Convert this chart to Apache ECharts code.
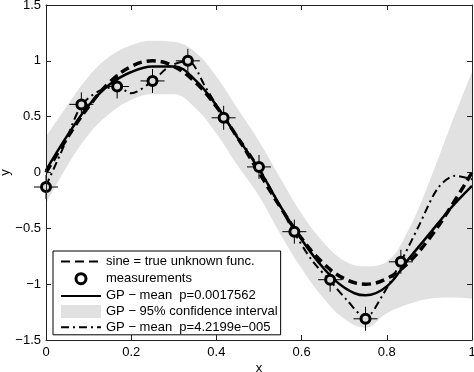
<!DOCTYPE html>
<html>
<head>
<meta charset="utf-8">
<script src="https://cdn.jsdelivr.net/npm/echarts@6/dist/echarts.min.js"></script>
<style>
  html, body { margin: 0; padding: 0; background: #fff; }
  #chart { width: 474px; height: 372px; }
</style>
</head>
<body>
<div id="chart"></div>
<script>
// sample positions for the smooth curves
var xs = [0, 0.05, 0.1, 0.15, 0.2, 0.25, 0.3, 0.35, 0.4, 0.45, 0.5,
          0.55, 0.6, 0.65, 0.7, 0.75, 0.8, 0.85, 0.9, 0.95, 1];
// sine = true unknown func.
var sineTrue = [0, 0.31, 0.59, 0.81, 0.95, 1.0, 0.95, 0.81, 0.59, 0.31, 0,
                -0.31, -0.59, -0.81, -0.95, -1.0, -0.95, -0.81, -0.59, -0.31, 0];
// GP mean p=0.0017562
var gpMeanA = [0.02, 0.33, 0.6, 0.79, 0.9, 0.95, 0.95, 0.83, 0.6, 0.31, 0.03,
               -0.3, -0.6, -0.85, -1.03, -1.1, -1.02, -0.78, -0.55, -0.32, -0.12];
// 95% confidence band
var ciUpper = [0.32, 0.6, 0.86, 1.04, 1.14, 1.18, 1.17, 1.08, 0.86, 0.57, 0.28,
               -0.05, -0.37, -0.62, -0.79, -0.84, -0.8, -0.52, -0.08, 0.42, 0.9];
var ciLower = [-0.28, 0.06, 0.34, 0.53, 0.65, 0.7, 0.7, 0.58, 0.35, 0.06, -0.21,
               -0.55, -0.86, -1.12, -1.31, -1.39, -1.26, -1.18, -1.13, -1.12, -1.13];
// GP mean p=4.2199e-005
var gpMeanBX = [0, 0.04, 0.083, 0.125, 0.167, 0.2, 0.25, 0.29, 0.333, 0.375, 0.417, 0.458,
                0.5, 0.542, 0.583, 0.625, 0.667, 0.708, 0.75, 0.79, 0.833, 0.875, 0.92, 0.96, 1];
var gpMeanBY = [-0.12, 0.22, 0.6, 0.73, 0.77, 0.71, 0.82, 0.95, 1.0, 0.76, 0.5, 0.28,
                0.04, -0.25, -0.54, -0.79, -0.97, -1.15, -1.3, -1.1, -0.8, -0.48, -0.14, -0.03, -0.06];
// measurements
var measX = [0, 0.083, 0.167, 0.25, 0.333, 0.417, 0.5, 0.583, 0.667, 0.75, 0.833];
var measY = [-0.13, 0.61, 0.77, 0.82, 1.0, 0.49, 0.05, -0.53, -0.96, -1.31, -0.8];

var FONT = 'Liberation Sans';
var GRAY = '#e1e1e1';
var names = ['sine = true unknown func.', 'measurements', 'GP \u2212 mean  p=0.0017562',
             'GP \u2212 95% confidence interval', 'GP \u2212 mean  p=4.2199e\u2212005'];

function zip(a, b) { return a.map(function (v, i) { return [v, b[i]]; }); }
function fmt(v) { return String(v).replace('-', '\u2212'); }

var chart = echarts.init(document.getElementById('chart'));

var axisLine = {show: true, onZero: false, lineStyle: {color: '#222', width: 1}};
var tick = {show: true, inside: true, length: 5, lineStyle: {color: '#222'}};
var label = {color: '#000', fontFamily: FONT, fontSize: 13};
var hideSym = {opacity: 0};

var option = {
    animation: false,
    grid: {left: 46, right: 2, top: 5, bottom: 32, outerBoundsMode: 'none', containLabel: false},
    legend: {
        orient: 'vertical',
        left: 53, top: 251,
        padding: [4, 3, 1, 7],
        itemWidth: 40, itemHeight: 13, itemGap: 2.7,
        borderColor: '#000', borderWidth: 1, backgroundColor: '#fff',
        textStyle: {color: '#000', fontFamily: FONT, fontSize: 13},
        data: [
            {name: names[0], itemStyle: hideSym},
            {name: names[1], icon: 'path://M0,0M13,13M6.5,1.5A5,5,0,1,1,6.49,1.5Z',
             itemStyle: {color: '#fff', borderColor: '#000', borderWidth: 3}},
            {name: names[2], itemStyle: hideSym},
            {name: names[3], icon: 'rect', itemStyle: {color: GRAY}},
            {name: names[4], itemStyle: hideSym}
        ]
    },
    xAxis: [{
        type: 'value', min: 0, max: 1, interval: 0.2, z: 10,
        name: 'x', nameLocation: 'middle', nameGap: 22, nameMoveOverlap: false,
        nameTextStyle: {color: '#000', fontFamily: FONT, fontSize: 13},
        axisLine: axisLine, axisTick: tick, splitLine: {show: false},
        axisLabel: Object.assign({margin: 6, formatter: fmt}, label)
    }, {
        type: 'value', min: 0, max: 1, interval: 0.2, position: 'top', z: 10,
        axisLine: axisLine, axisTick: tick, splitLine: {show: false},
        axisLabel: {show: false}
    }],
    yAxis: [{
        type: 'value', min: -1.5, max: 1.5, interval: 0.5, z: 10,
        name: 'y', nameLocation: 'middle', nameGap: 34, nameRotate: 90, nameMoveOverlap: false,
        nameTextStyle: {color: '#000', fontFamily: FONT, fontSize: 13},
        axisLine: axisLine, axisTick: tick, splitLine: {show: false},
        axisLabel: Object.assign({margin: 5, formatter: fmt}, label)
    }, {
        type: 'value', min: -1.5, max: 1.5, interval: 0.5, position: 'right', z: 10,
        axisLine: axisLine, axisTick: tick, splitLine: {show: false},
        axisLabel: {show: false}
    }],
    series: [
        {   // band: grey from the upper edge down
            type: 'line', name: names[3], smooth: 0.4, symbol: 'none',
            data: zip(xs, ciUpper), color: GRAY,
            lineStyle: {width: 0}, areaStyle: {color: GRAY, opacity: 1, origin: 'start'}, z: 1
        },
        {   // band: white from the lower edge down
            type: 'line', name: 'ciLow', smooth: 0.4, symbol: 'none',
            data: zip(xs, ciLower), color: '#fff', silent: true,
            lineStyle: {width: 0}, areaStyle: {color: '#fff', opacity: 1, origin: 'start'}, z: 1
        },
        {
            type: 'line', name: names[0], smooth: 0.4, symbol: 'none',
            data: zip(xs, sineTrue), color: '#000',
            lineStyle: {color: '#000', width: 3.5, type: [9, 5]}, z: 2
        },
        {
            type: 'line', name: names[2], smooth: 0.4, symbol: 'none',
            data: zip(xs, gpMeanA), color: '#000',
            lineStyle: {color: '#000', width: 2.5}, z: 3
        },
        {
            type: 'line', name: names[4], smooth: 0.3, symbol: 'none',
            data: zip(gpMeanBX, gpMeanBY), color: '#000',
            lineStyle: {color: '#000', width: 2, type: [8, 4, 2, 4]}, z: 3
        },
        {   // error crosses on the measurements
            type: 'custom', name: 'bars', z: 4,
            data: zip(measX, measY),
            renderItem: function (params, api) {
                var p = api.coord([api.value(0), api.value(1)]);
                var s = {stroke: '#000', lineWidth: 1};
                return {type: 'group', children: [
                    {type: 'line', shape: {x1: p[0] - 12, y1: p[1], x2: p[0] + 12, y2: p[1]}, style: s},
                    {type: 'line', shape: {x1: p[0], y1: p[1] - 12, x2: p[0], y2: p[1] + 12}, style: s}
                ]};
            }
        },
        {
            type: 'scatter', name: names[1], symbol: 'circle', symbolSize: 9,
            data: zip(measX, measY), color: '#000',
            itemStyle: {color: '#ddd', borderColor: '#000', borderWidth: 3, opacity: 1}, z: 5
        }
    ]
};
chart.setOption(option);
</script>
</body>
</html>
